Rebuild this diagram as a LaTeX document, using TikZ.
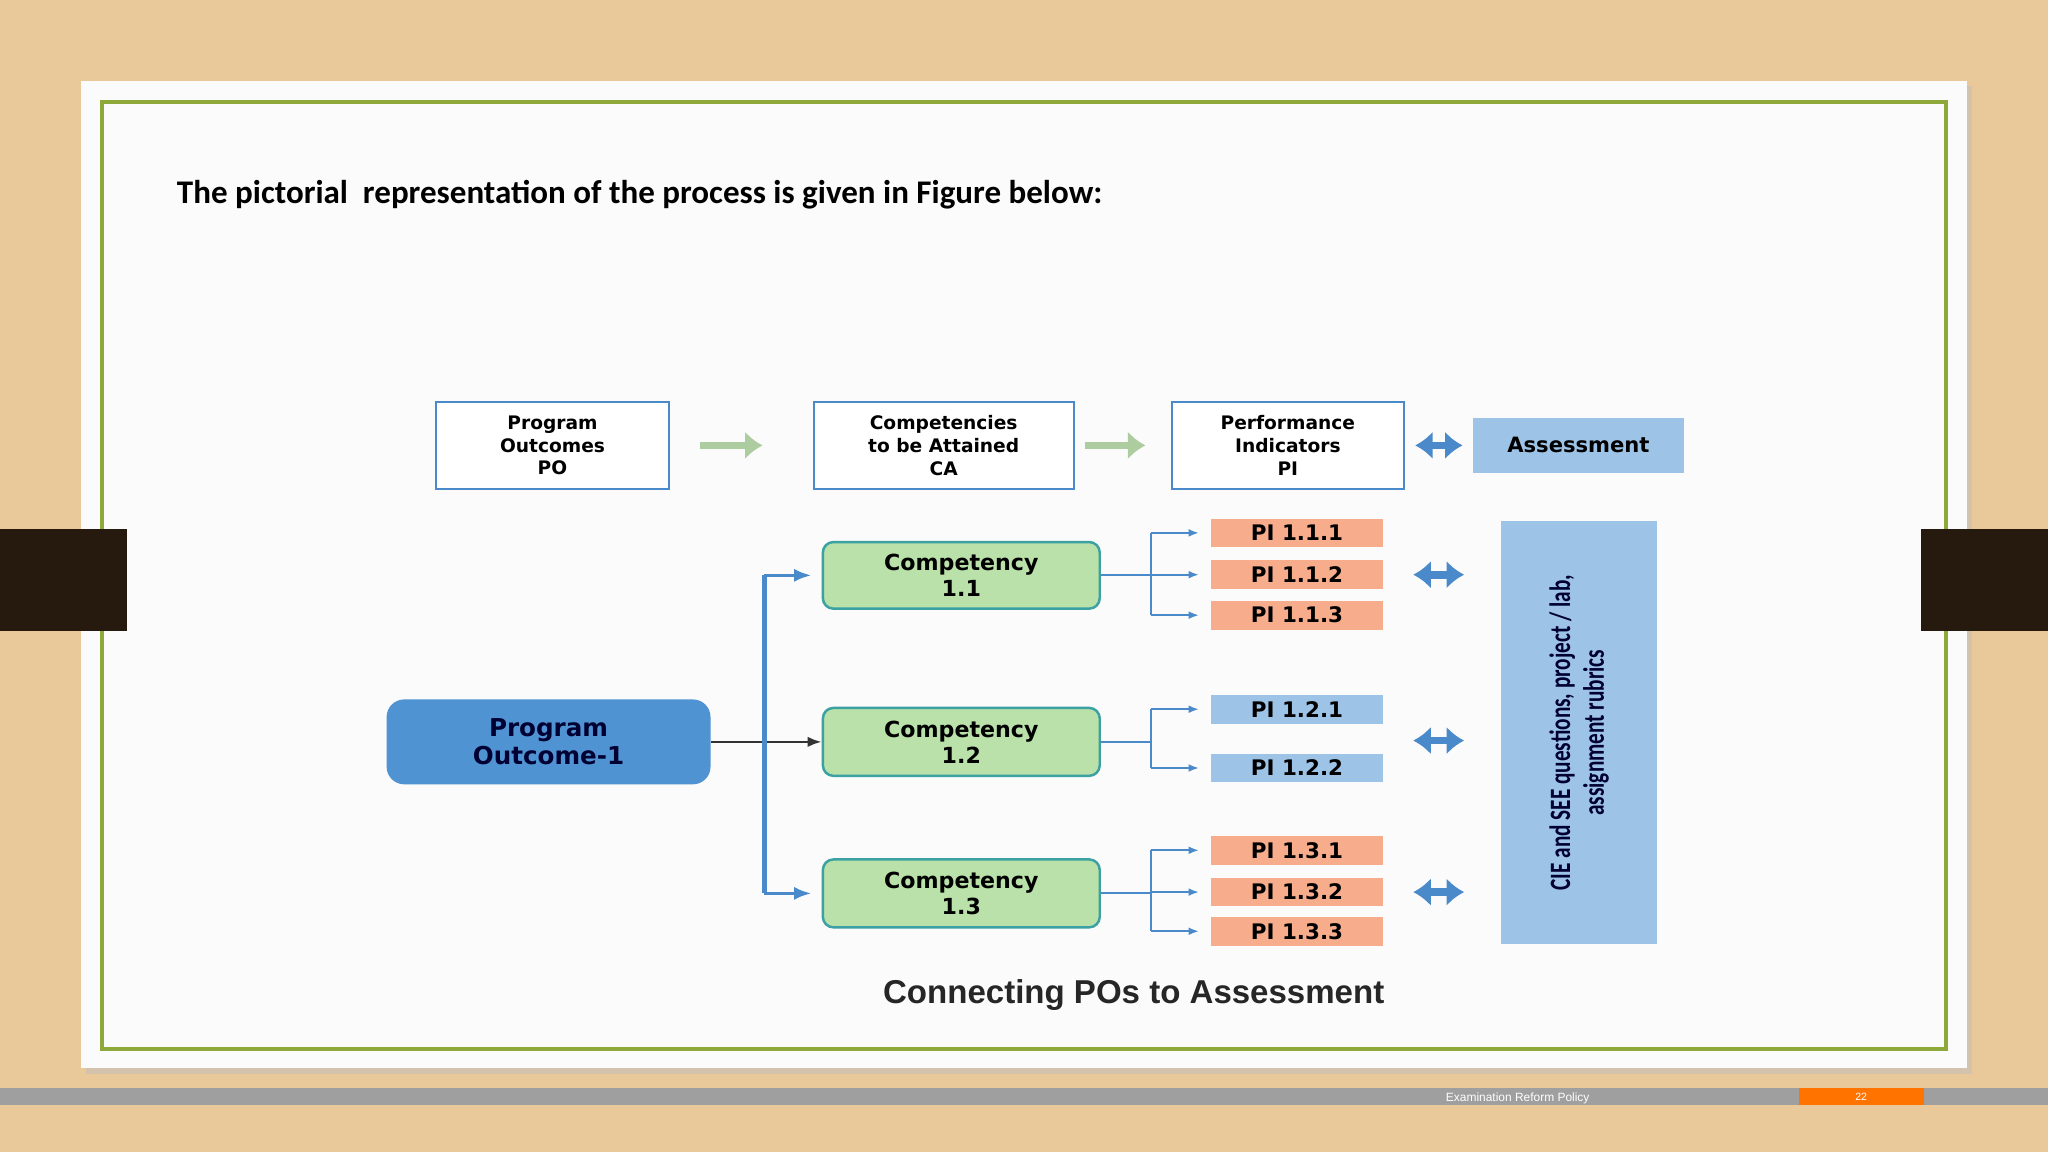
\documentclass[tikz,border=0pt]{standalone}
\usepackage{fontspec}
\setmainfont{Carlito}
\newfontfamily\boxfont{DejaVu Sans}
\newfontfamily\capfont{Liberation Sans}
\usetikzlibrary{arrows.meta,positioning}
\definecolor{wood}{HTML}{E9C99A}
\definecolor{rim}{HTML}{8FA83A}
\definecolor{poblue}{HTML}{4F93D2}
\definecolor{lblue}{HTML}{9DC3E6}
\definecolor{cgreen}{HTML}{B9E1A9}
\definecolor{salmon}{HTML}{F7AD8C}
\definecolor{linkblue}{HTML}{4A8ACB}
\tikzset{
  sz/.style 2 args={minimum width=#1*0.013061cm, minimum height=#2*0.013061cm, inner sep=0pt},
  head/.style={draw=linkblue, line width=0.6pt, fill=white, align=center, font=\boxfont\bfseries\fontsize{5.3}{6.5}\selectfont},
  comp/.style={draw=linkblue!80!green, line width=0.7pt, fill=cgreen, rounded corners=3pt, align=center, font=\boxfont\bfseries\fontsize{6.3}{7.4}\selectfont},
  pi/.style={fill=salmon, sz={132}{22}, font=\boxfont\bfseries\fontsize{6.1}{7}\selectfont},
  pib/.style={pi, fill=lblue},
  link/.style={draw=linkblue, line width=0.6pt, -{Latex[length=3pt]}},
  dbl/.style={draw=linkblue, line width=2.2pt, {Latex[length=5pt,width=8pt]}-{Latex[length=5pt,width=8pt]}},
  fwd/.style={draw=cgreen!80!gray, line width=2.2pt, -{Latex[length=5pt,width=8pt]}}
}
\begin{document}
\begin{tikzpicture}[x=0.013061cm,y=-0.013061cm]
  % slide background
  \fill[wood] (0,0) rectangle (1568,882);
  \fill[black!25, opacity=0.5] (66,66) rectangle (1510,822);
  \fill[white!97!gray] (62,62) rectangle (1506,818);
  \draw[rim, line width=1pt] (78,78) rectangle (1490,803);
  \fill[black!80!brown] (0,405) rectangle (97,483);
  \fill[black!80!brown] (1471,405) rectangle (1568,483);
  \fill[gray!75] (0,833) rectangle (1568,846);
  \fill[orange!90!red] (1377,833) rectangle (1473,846);
  \node[text=white, font=\capfont\fontsize{3.4}{4}\selectfont] (foot) at (1162,841) {Examination Reform Policy};
  \node[text=white, font=\capfont\fontsize{3}{4}\selectfont] (page) at (1425,839.5) {22};

  \node[anchor=west, font=\bfseries\fontsize{9.4}{11}\selectfont] (title) at (126,149) {The pictorial\ \ representation of the process is given in Figure below:};

  % header row
  \node[head, sz={178}{67}] (po) at (423,341) {Program\\Outcomes\\PO};
  \node[head, sz={199}{67}] (ca) at (722.5,341) {Competencies\\to be Attained\\CA};
  \node[head, sz={178}{67}] (pi) at (986,341) {Performance\\Indicators\\PI};
  \node[fill=lblue, sz={161}{42}, font=\boxfont\bfseries\fontsize{6}{7}\selectfont] (as) at (1208.5,341) {Assessment};
  \draw[fwd] ([xshift=0.3cm]po.east) -- ([xshift=-0.5cm]ca.west);
  \draw[fwd] ([xshift=0.1cm]ca.east) -- ([xshift=-0.25cm]pi.west);
  \draw[dbl] ([xshift=0.1cm]pi.east) -- ([xshift=-0.1cm]as.west);

  % outcome and competencies
  \node[fill=poblue, rounded corners=5pt, sz={248}{65}, align=center, text=black!80!blue, font=\boxfont\bfseries\fontsize{7}{8}\selectfont] (out) at (420,568) {Program\\Outcome-1};
  \node[comp, sz={212}{51}] (c1) at (736,440.5) {Competency\\1.1};
  \node[comp, sz={212}{52}] (c2) at (736,568) {Competency\\1.2};
  \node[comp, sz={212}{52}] (c3) at (736,684) {Competency\\1.3};
  \coordinate (split) at (585,568);
  \draw[black!80, line width=0.7pt, -{Latex[length=4pt]}] (out.east) -- (c2.west);
  \draw[linkblue, line width=1.4pt] (split |- c1.west) -- (split |- c3.west);
  \draw[linkblue, line width=1pt, -{Latex[length=5pt]}] (split |- c1.west) -- ([xshift=-0.1cm]c1.west);
  \draw[linkblue, line width=1pt, -{Latex[length=5pt]}] (split |- c3.west) -- ([xshift=-0.1cm]c3.west);

  % performance indicators
  \node[pi] (p111) at (993,408) {PI 1.1.1};
  \node[pi] (p112) at (993,440) {PI 1.1.2};
  \node[pi] (p113) at (993,471) {PI 1.1.3};
  \node[pib] (p121) at (993,543) {PI 1.2.1};
  \node[pib] (p122) at (993,588) {PI 1.2.2};
  \node[pi] (p131) at (993,651) {PI 1.3.1};
  \node[pi] (p132) at (993,683) {PI 1.3.2};
  \node[pi] (p133) at (993,713) {PI 1.3.3};
  \foreach \c/\a/\b in {c1/p111/p113, c2/p121/p122, c3/p131/p133} {
    \coordinate (k) at (881,0);
    \draw[linkblue, line width=0.6pt] (\c.east) -- (k |- \c.east);
    \draw[linkblue, line width=0.6pt] (k |- \a.west) -- (k |- \b.west);
    \draw[link, shorten >=0.11cm] (k |- \a.west) -- (\a.west);
    \draw[link, shorten >=0.11cm] (k |- \b.west) -- (\b.west);
  }
  \draw[link, shorten >=0.11cm] (881,440) -- (p112.west);
  \draw[link, shorten >=0.11cm] (881,683) -- (p132.west);

  % assessment column
  \node[fill=lblue, sz={120}{324}] (tools) at (1209,561) {};
  \node[rotate=90, xscale=0.72, align=center, font=\bfseries\fontsize{8.4}{9.6}\selectfont, text=black!80!blue] (toolstxt) at (tools.center) {CIE and SEE questions, project / lab,\\assignment rubrics};
  \foreach \y in {440,567,683} {
    \coordinate (l) at (1082,\y);
    \coordinate (r) at (1121,\y);
    \draw[dbl] (l) -- (r);
  }

  \node[font=\capfont\bfseries\fontsize{9.4}{11}\selectfont, text=black!85] (cap) at (868,762) {Connecting POs to Assessment};
\end{tikzpicture}
\end{document}
